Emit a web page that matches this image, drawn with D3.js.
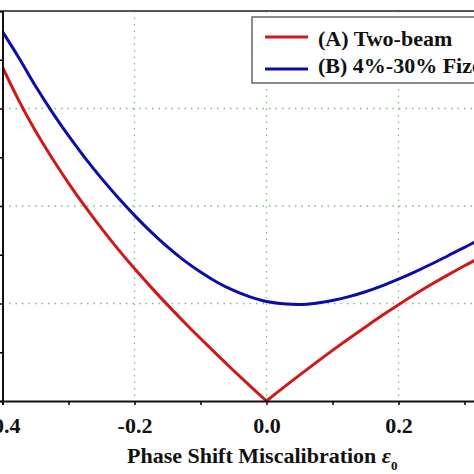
<!DOCTYPE html>
<html>
<head>
<meta charset="utf-8">
<script src="https://cdn.jsdelivr.net/npm/d3@7"></script>
<style>
  body { margin: 0; background: #fff; }
  svg { display: block; }
  .tick text { font-family: "Liberation Serif", "Times New Roman", serif; font-weight: bold; }
</style>
</head>
<body>
<div class="content"></div>
<script>
// curve data
const eps = [-0.400, -0.375, -0.350, -0.325, -0.300, -0.275, -0.250, -0.225, -0.200, -0.175, -0.150, -0.125, -0.100, -0.075, -0.050, -0.025,
             0.000, 0.025, 0.050, 0.075, 0.100, 0.125, 0.150, 0.175, 0.200, 0.225, 0.250, 0.275, 0.300, 0.325, 0.350, 0.375, 0.400];
const twoBeam = [3.423, 3.078, 2.768, 2.492, 2.235, 1.995, 1.770, 1.558, 1.358, 1.168, 0.986, 0.811, 0.641, 0.475, 0.313, 0.155,
                 0.000, 0.135, 0.266, 0.394, 0.519, 0.641, 0.760, 0.876, 0.988, 1.095, 1.197, 1.294, 1.387, 1.476, 1.562, 1.645, 1.725];
const fizeau = [3.788, 3.518, 3.231, 2.966, 2.721, 2.494, 2.283, 2.087, 1.904, 1.734, 1.580, 1.442, 1.322, 1.218, 1.134, 1.068,
                1.020, 0.998, 0.990, 1.003, 1.030, 1.070, 1.120, 1.180, 1.250, 1.325, 1.405, 1.490, 1.575, 1.665, 1.755, 1.845, 1.935];

const xTicks = [-0.4, -0.2, 0.0, 0.2];
const xMinor = [-0.3, -0.1, 0.1, 0.3];
const yTicks = [0, 1, 2, 3, 4];
const yMinor = [0.5, 1.5, 2.5, 3.5];
const gridX = [-0.2, 0.0, 0.2];
const gridY = [1, 2, 3];

const legendLabels = ["(A) Two-beam", "(B) 4%-30% Fizeau"];
const colors = ["#d01818", "#0c0cac"];

const W = 474, H = 474;
const plot = { left: 2.5, right: 530.5, top: 11, bottom: 401 };

const svg = d3.select(".content")
              .append("svg")
              .attr("width", W)
              .attr("height", H);

const x = d3.scaleLinear().domain([-0.4, 0.4]).range([plot.left, plot.right]);
const y = d3.scaleLinear().domain([0, 4]).range([plot.bottom, plot.top]);

svg.append("clipPath").attr("id", "clip")
   .append("rect")
   .attr("x", plot.left).attr("y", plot.top)
   .attr("width", plot.right - plot.left).attr("height", plot.bottom - plot.top);

// grid lines (green dotted)
svg.selectAll(".gx")
   .data(gridX)
   .enter().append("line")
   .attr("x1", d => x(d)).attr("x2", d => x(d))
   .attr("y1", plot.top).attr("y2", plot.bottom)
   .attr("stroke", "#7cc07c").attr("stroke-width", 1.3)
   .attr("stroke-dasharray", "1.5,5");

svg.selectAll(".gy")
   .data(gridY)
   .enter().append("line")
   .attr("y1", d => y(d)).attr("y2", d => y(d))
   .attr("x1", plot.left).attr("x2", plot.right)
   .attr("stroke", "#7cc07c").attr("stroke-width", 1.3)
   .attr("stroke-dasharray", "1.5,5");

// curves
const gCurves = svg.append("g").attr("clip-path", "url(#clip)");

const seg = (vals, idx) => d3.line()
                             .x(i => x(eps[i]))
                             .y(i => y(vals[i]))
                             .curve(d3.curveCatmullRom.alpha(0.5))(idx);

// two-beam: smooth on each side of the V tip
const i0 = eps.indexOf(0);
const leftIdx = d3.range(0, i0 + 1), rightIdx = d3.range(i0, eps.length);

gCurves.append("path")
       .attr("d", seg(twoBeam, leftIdx) + seg(twoBeam, rightIdx).replace(/^M/, "L"))
       .attr("fill", "none")
       .attr("stroke", colors[0])
       .attr("stroke-width", 3)
       .attr("stroke-linejoin", "miter");

gCurves.append("path")
       .attr("d", seg(fizeau, d3.range(eps.length)))
       .attr("fill", "none")
       .attr("stroke", colors[1])
       .attr("stroke-width", 3);

// top frame
svg.append("line")
   .attr("x1", plot.left).attr("x2", W)
   .attr("y1", plot.top).attr("y2", plot.top)
   .attr("stroke", "#555").attr("stroke-width", 2);

// x axis
const xAxis = d3.axisBottom(x).tickValues(xTicks)
                .tickFormat(d3.format(".1f")).tickSize(4).tickPadding(12);
svg.append("g")
   .attr("transform", `translate(0, ${plot.bottom})`)
   .call(xAxis)
   .call(g => g.select(".domain").attr("stroke", "#111").attr("stroke-width", 2))
   .call(g => g.selectAll(".tick line").attr("stroke-width", 1.5))
   .call(g => g.selectAll(".tick text").attr("font-size", 22).attr("fill", "#111")
                .text(d => d3.format(".1f")(d).replace("−", "-")));

svg.append("g")
   .attr("transform", `translate(0, ${plot.bottom})`)
   .call(d3.axisBottom(x).tickValues(xMinor).tickFormat("").tickSize(4))
   .call(g => g.select(".domain").remove())
   .call(g => g.selectAll(".tick line").attr("stroke-width", 1.5));

// y axis (labels are off the left edge)
svg.append("g")
   .attr("transform", `translate(${plot.left}, 0)`)
   .call(d3.axisLeft(y).tickValues(yTicks.concat(yMinor)).tickFormat("").tickSize(5))
   .call(g => g.select(".domain").attr("stroke", "#111").attr("stroke-width", 2))
   .call(g => g.selectAll(".tick line").attr("stroke-width", 1.5));

// x axis title
const title = svg.append("text")
   .attr("x", 127).attr("y", 463)
   .attr("font-family", "'Liberation Serif', 'Times New Roman', serif")
   .attr("font-weight", "bold").attr("font-size", 22).attr("fill", "#111");
title.append("tspan").text("Phase Shift Miscalibration ");
title.append("tspan").attr("font-style", "italic").text("ε");
title.append("tspan").attr("font-size", 13).attr("dy", 7).text("0");

// legend
const legend = svg.append("g");
legend.append("rect")
      .attr("x", 252).attr("y", 17)
      .attr("width", 260).attr("height", 66)
      .attr("fill", "#fff").attr("stroke", "#666").attr("stroke-width", 1.5);

const legY = [37, 69], legText = [46, 73];
legend.selectAll(".legLine")
      .data(legendLabels)
      .enter().append("line")
      .attr("x1", 265).attr("x2", 308)
      .attr("y1", (d, i) => legY[i]).attr("y2", (d, i) => legY[i])
      .attr("stroke", (d, i) => colors[i]).attr("stroke-width", 3);

legend.selectAll(".legText")
      .data(legendLabels)
      .enter().append("text")
      .attr("x", 318).attr("y", (d, i) => legText[i])
      .attr("font-family", "'Liberation Serif', 'Times New Roman', serif")
      .attr("font-weight", "bold").attr("font-size", 22).attr("fill", "#111")
      .text(d => d);
</script>
</body>
</html>
